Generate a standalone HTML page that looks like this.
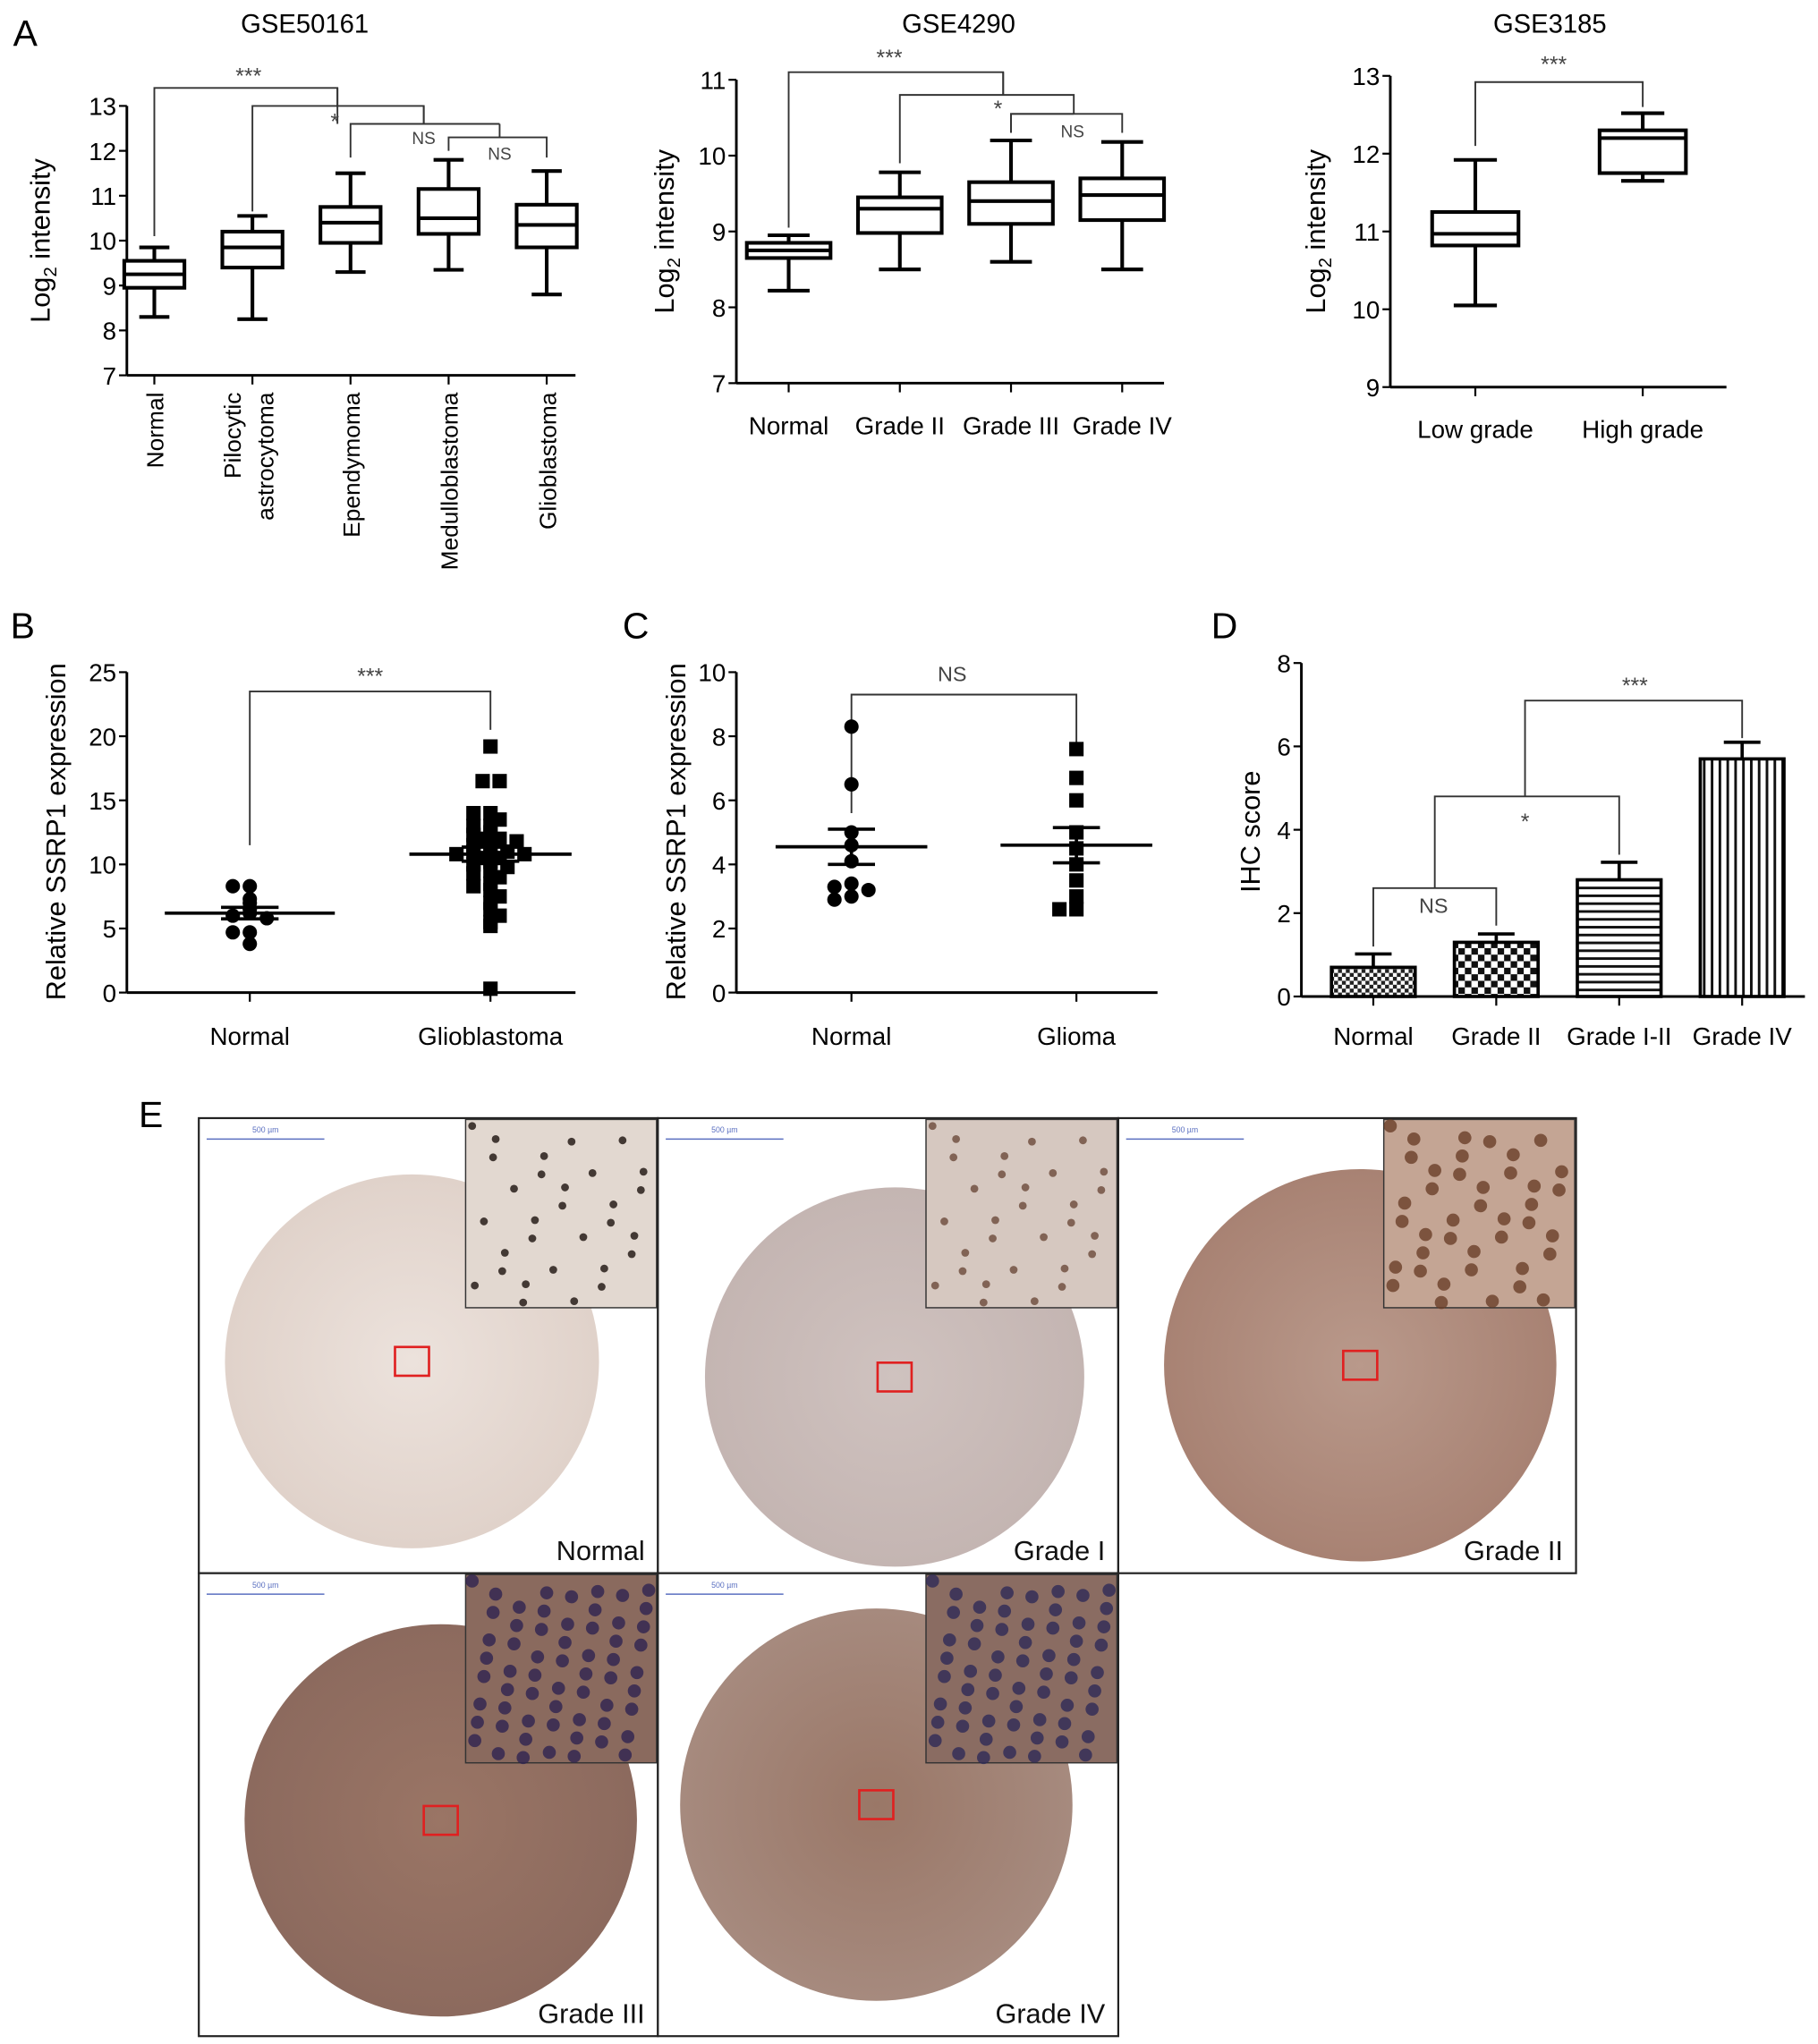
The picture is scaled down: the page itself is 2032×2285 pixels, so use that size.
<!DOCTYPE html>
<html><head><meta charset="utf-8"><style>
html,body{margin:0;padding:0;background:#fff;}
svg{display:block;font-family:"Liberation Sans",Arial,sans-serif;}
</style></head>
<body>
<svg id="fig" width="2032" height="2285" viewBox="0 0 1390 1563" preserveAspectRatio="none" xmlns="http://www.w3.org/2000/svg">
<defs>
<pattern id="pCheckSmall" width="6" height="6" patternUnits="userSpaceOnUse"><rect width="6" height="6" fill="#fff"/><rect width="3" height="3" fill="#222"/><rect x="3" y="3" width="3" height="3" fill="#222"/></pattern>
<pattern id="pCheck" width="10" height="10" patternUnits="userSpaceOnUse"><rect width="10" height="10" fill="#fff"/><rect width="5" height="5" fill="#111"/><rect x="5" y="5" width="5" height="5" fill="#111"/></pattern>
<pattern id="pHoriz" width="6" height="6" patternUnits="userSpaceOnUse"><rect width="6" height="6" fill="#fff"/><rect y="0" width="6" height="2" fill="#111"/></pattern>
<pattern id="pVert" width="6" height="6" patternUnits="userSpaceOnUse"><rect width="6" height="6" fill="#fff"/><rect x="0" width="2" height="6" fill="#111"/></pattern>
<radialGradient id="gNormal"><stop offset="0" stop-color="#ece2dc"/><stop offset="1" stop-color="#e0d2ca"/></radialGradient>
<radialGradient id="gG1"><stop offset="0" stop-color="#cfc2bf"/><stop offset="1" stop-color="#c4b5b2"/></radialGradient>
<radialGradient id="gG2"><stop offset="0" stop-color="#b9998b"/><stop offset="1" stop-color="#a88273"/></radialGradient>
<radialGradient id="gG3"><stop offset="0" stop-color="#9a7565"/><stop offset="1" stop-color="#8c6a5e"/></radialGradient>
<radialGradient id="gG4"><stop offset="0" stop-color="#9a7767"/><stop offset="1" stop-color="#a68a7e"/></radialGradient>
</defs>
<g id="root"></g>
</svg>
<script>
// ===== Panel A data =====
const a1Categories = ["Normal","Pilocytic astrocytoma","Ependymoma","Medulloblastoma","Glioblastoma"];
const a1Low = [8.3, 8.25, 9.3, 9.35, 8.8];
const a1Q1 = [8.95, 9.4, 9.95, 10.15, 9.85];
const a1Median = [9.25, 9.85, 10.4, 10.5, 10.35];
const a1Q3 = [9.55, 10.2, 10.75, 11.15, 10.8];
const a1High = [9.85, 10.55, 11.5, 11.8, 11.55];
const a1Ticks = [7,8,9,10,11,12,13];

const a2Categories = ["Normal","Grade II","Grade III","Grade IV"];
const a2Low = [8.22, 8.5, 8.6, 8.5];
const a2Q1 = [8.65, 8.98, 9.1, 9.15];
const a2Median = [8.75, 9.3, 9.4, 9.48];
const a2Q3 = [8.85, 9.45, 9.65, 9.7];
const a2High = [8.95, 9.78, 10.2, 10.18];
const a2Ticks = [7,8,9,10,11];

const a3Categories = ["Low grade","High grade"];
const a3Low = [10.05, 11.65];
const a3Q1 = [10.82, 11.75];
const a3Median = [10.97, 12.2];
const a3Q3 = [11.25, 12.3];
const a3High = [11.92, 12.52];
const a3Ticks = [9,10,11,12,13];

// ===== Panel B data =====
const bCategories = ["Normal","Glioblastoma"];
const bNormal = [8.3, 8.3, 7.3, 7.0, 6.5, 6.2, 6.0, 5.8, 4.7, 4.7, 3.8];
const bGlio = [19.2, 16.5, 16.5, 14.0, 14.0, 13.5, 13.0, 13.0, 12.5, 12.3, 12.0, 12.0, 11.8, 11.5, 11.5, 11.2, 11.0, 11.0, 10.8, 10.8, 10.5, 10.5, 10.2, 10.0, 9.8, 9.5, 9.3, 9.0, 8.5, 8.3, 8.0, 7.5, 7.0, 6.5, 6.0, 5.5, 5.2, 0.3];
const bMean = [6.2, 10.8];
const bSem = [0.45, 0.55];
const bTicks = [0,5,10,15,20,25];

// ===== Panel C data =====
const cCategories = ["Normal","Glioma"];
const cNormal = [8.3, 6.5, 5.0, 4.6, 4.1, 3.4, 3.3, 3.2, 3.0, 2.9];
const cGlioma = [7.6, 6.7, 6.0, 5.0, 4.5, 4.0, 3.5, 3.0, 2.6, 2.6];
const cMean = [4.55, 4.6];
const cSem = [0.55, 0.55];
const cTicks = [0,2,4,6,8,10];

// ===== Panel D data =====
const dCategories = ["Normal","Grade II","Grade I-II","Grade IV"];
const dValues = [0.7, 1.3, 2.8, 5.7];
const dErrors = [0.32, 0.2, 0.42, 0.4];
const dTicks = [0,2,4,6,8];

const NS = "http://www.w3.org/2000/svg";
const root = document.getElementById('root');
function mk(tag, attrs, parent, text){
  const e = document.createElementNS(NS, tag);
  for (const k in attrs) e.setAttribute(k, attrs[k]);
  if (text !== undefined) e.textContent = text;
  (parent||root).appendChild(e);
  return e;
}
function lin(d0,d1,r0,r1){ return v => r0 + (v-d0)*(r1-r0)/(d1-d0); }

function yAxis(g, x, ticks, y, fs){
  const ax = mk('line',{x1:x,y1:y(ticks[0]),x2:x,y2:y(ticks[ticks.length-1]),stroke:'#000','stroke-width':2},g);
  
  
  ticks.forEach(t=>{
    mk('line',{x1:x-6,y1:y(t),x2:x,y2:y(t),stroke:'#000','stroke-width':1.5},g);
    const tl = mk('text',{x:x-8,y:y(t)+7,'text-anchor':'end','font-size':fs||19},g,String(t));
    
    
  });
}
function yTitle(g, x, yc, parts){
  const t = mk('text',{transform:`translate(${x},${yc}) rotate(-90)`,'text-anchor':'middle','font-size':21},g);
  
  
  parts.forEach(p=>{
    mk('tspan', p.sub?{'font-size':14,dy:5}:(p.after?{dy:-5}:{}), t, p.t);
  });
}
function bracket(g, x1, ya, x2, yb, ytop, label, lx, ly, fs){
  const p = mk('path',{d:`M${x1},${ya} V${ytop} H${x2} V${yb}`,fill:'none',stroke:'#333','stroke-width':1.3},g);
  
  
  const t = mk('text',{x:lx,y:ly,'text-anchor':'middle','font-size':fs||15,fill:'#444'},g,label);
  
  
}
function panelLetter(x,y,l){
  const t = mk('text',{x:x,y:y,'font-size':28},root,l);
  
  
}
function title(x,y,s){
  const t = mk('text',{x:x,y:y,'text-anchor':'middle','font-size':20},root,s);
  
  
}
function boxplot(g, cats, lo, q1, med, q3, hi, xPos, y, w){
  cats.forEach((c,i)=>{
    const x = xPos(i);
    const bg = mk('g',{},g);
    
    
    const cap = w*0.5;
    mk('line',{x1:x,y1:y(hi[i]),x2:x,y2:y(q3[i]),stroke:'#000','stroke-width':2.8},bg);
    mk('line',{x1:x,y1:y(lo[i]),x2:x,y2:y(q1[i]),stroke:'#000','stroke-width':2.8},bg);
    mk('line',{x1:x-cap/2,y1:y(hi[i]),x2:x+cap/2,y2:y(hi[i]),stroke:'#000','stroke-width':2.8},bg);
    mk('line',{x1:x-cap/2,y1:y(lo[i]),x2:x+cap/2,y2:y(lo[i]),stroke:'#000','stroke-width':2.8},bg);
    mk('rect',{x:x-w/2,y:y(q3[i]),width:w,height:y(q1[i])-y(q3[i]),fill:'#fff',stroke:'#000','stroke-width':2.8},bg);
    mk('line',{x1:x-w/2,y1:y(med[i]),x2:x+w/2,y2:y(med[i]),stroke:'#000','stroke-width':2.8},bg);
  });
}
function xAxis(g, x0, x1, y0, xs){
  const a = mk('line',{x1:x0,y1:y0,x2:x1,y2:y0,stroke:'#000','stroke-width':2},g);
  
  
  xs.forEach(x=>mk('line',{x1:x,y1:y0,x2:x,y2:y0+7,stroke:'#000','stroke-width':1.5},g));
}
function xLabel(g,x,y,s){
  const t = mk('text',{x:x,y:y,'text-anchor':'middle','font-size':19},g,s);
  
  
}

// ---------- A1 ----------
panelLetter(10,35,'A');
title(233,25,'GSE50161');
{
  const g = mk('g',{});  
  const y = lin(7,13,287,81);
  const xp = i => 118 + i*75;
  yAxis(g,97,a1Ticks,y);
  yTitle(g,38,184,[{t:'Log'},{t:'2',sub:true},{t:' intensity',after:true}]);
  xAxis(g,97,440,287,a1Categories.map((c,i)=>xp(i)));
  boxplot(g,a1Categories,a1Low,a1Q1,a1Median,a1Q3,a1High,xp,y,46);
  const labs = [["Normal"],["Pilocytic","astrocytoma"],["Ependymoma"],["Medulloblastoma"],["Glioblastoma"]];
  labs.forEach((L,i)=>{
    L.forEach((s,j)=>{
      const off = L.length===2 ? (j===0?-9:16) : 7;
      const t = mk('text',{transform:`translate(${xp(i)+off},300) rotate(-90)`,'text-anchor':'end','font-size':18},g,s);
      
      
    });
  });
  bracket(g,xp(0),y(10.1),258,y(12.6),y(13.4),'***',190,64,17);
  bracket(g,xp(1),y(10.65),324,y(12.6),y(13.0),'',0,0);
  bracket(g,xp(2),y(11.85),382,y(12.6),y(12.6),'*',256,99,17);
  bracket(g,xp(3),y(12.0),418,y(11.85),y(12.3),'NS',382,122,13);
  mk('text',{x:324,y:110,'text-anchor':'middle','font-size':13,fill:'#444'},g,'NS');
  mk('line',{x1:258,y1:y(13.4),x2:258,y2:y(13.0),stroke:'#333','stroke-width':1.3},g);
  mk('line',{x1:324,y1:y(13.0),x2:324,y2:y(12.6),stroke:'#333','stroke-width':1.3},g);
  mk('line',{x1:382,y1:y(12.6),x2:382,y2:y(12.3),stroke:'#333','stroke-width':1.3},g);
}

// ---------- A2 ----------
title(733,25,'GSE4290');
{
  const g = mk('g',{});  
  const y = lin(7,11,293,61);
  const xp = i => 603 + i*85;
  yAxis(g,563,a2Ticks,y);
  yTitle(g,515,177,[{t:'Log'},{t:'2',sub:true},{t:' intensity',after:true}]);
  xAxis(g,563,890,293,a2Categories.map((c,i)=>xp(i)));
  boxplot(g,a2Categories,a2Low,a2Q1,a2Median,a2Q3,a2High,xp,y,64);
  a2Categories.forEach((c,i)=>xLabel(g,xp(i),332,c));
  bracket(g,xp(0),y(9.05),767,y(10.8),y(11.1),'***',680,50,17);
  bracket(g,xp(1),y(9.9),821,y(10.55),y(10.8),'',0,0);
  bracket(g,xp(2),y(10.3),821,y(10.55),y(10.55),'*',763,89,17);
  bracket(g,xp(2),y(10.3),xp(3),y(10.3),y(10.55),'',0,0);
  mk('text',{x:820,y:105,'text-anchor':'middle','font-size':13,fill:'#444'},g,'NS');
  mk('line',{x1:767,y1:y(11.1),x2:767,y2:y(10.8),stroke:'#333','stroke-width':1.3},g);
}

// ---------- A3 ----------
title(1185,25,'GSE3185');
{
  const g = mk('g',{});  
  const y = lin(9,13,296,58);
  const xp = i => 1128 + i*128;
  yAxis(g,1063,a3Ticks,y);
  yTitle(g,1013,177,[{t:'Log'},{t:'2',sub:true},{t:' intensity',after:true}]);
  xAxis(g,1063,1320,296,a3Categories.map((c,i)=>xp(i)));
  boxplot(g,a3Categories,a3Low,a3Q1,a3Median,a3Q3,a3High,xp,y,66);
  a3Categories.forEach((c,i)=>xLabel(g,xp(i),335,c));
  bracket(g,xp(0),y(12.1),xp(1),y(12.6),y(12.92),'***',1188,55,17);
}

// ---------- B ----------
panelLetter(8,488,'B');
{
  const g = mk('g',{});  
  const y = lin(0,25,759,514);
  const xp = i => [191,375][i];
  yAxis(g,97,bTicks,y);
  const t = mk('text',{transform:'translate(50,636) rotate(-90)','text-anchor':'middle','font-size':21},g,'Relative SSRP1 expression');
   
  xAxis(g,97,440,759,[191,375]);
  bCategories.forEach((c,i)=>xLabel(g,xp(i),799,c));
  bracket(g,191,y(11.5),375,y(20.5),y(23.5),'***',283,523,17);
  [bNormal,bGlio].forEach((arr,i)=>{
    const counts = {};
    arr.forEach(v=>{
      const k = Math.round(v*2);
      counts[k] = (counts[k]||0)+1;
      const n = counts[k]-1;
      const off = (n%2===0?1:-1)*Math.ceil(n/2)*13 + ((i===1&&k%3===0)?7:0);
      let m;
      if(i===0){ m = mk('circle',{cx:xp(i)+off,cy:y(v),r:5.5,fill:'#000'},g); }
      else { m = mk('rect',{x:xp(i)+off-5.5,y:y(v)-5.5,width:11,height:11,fill:'#000'},g); }
      
      
    });
    const w = i===0?65:62;
    const ml = mk('line',{x1:xp(i)-w,y1:y(bMean[i]),x2:xp(i)+w,y2:y(bMean[i]),stroke:'#000','stroke-width':2.5},g);
     
    mk('line',{x1:xp(i),y1:y(bMean[i]-bSem[i]),x2:xp(i),y2:y(bMean[i]+bSem[i]),stroke:'#000','stroke-width':2.5},g);
    [-1,1].forEach(s=>mk('line',{x1:xp(i)-22,y1:y(bMean[i]+s*bSem[i]),x2:xp(i)+22,y2:y(bMean[i]+s*bSem[i]),stroke:'#000','stroke-width':2.5},g));
  });
}

// ---------- C ----------
panelLetter(476,488,'C');
{
  const g = mk('g',{});  
  const y = lin(0,10,759,514);
  const xp = i => [651,823][i];
  yAxis(g,563,cTicks,y);
  const t = mk('text',{transform:'translate(524,636) rotate(-90)','text-anchor':'middle','font-size':21},g,'Relative SSRP1 expression');
   
  xAxis(g,563,885,759,[651,823]);
  cCategories.forEach((c,i)=>xLabel(g,xp(i),799,c));
  bracket(g,651,y(5.6),823,y(7.8),y(9.3),'NS',728,521,16);
  [cNormal,cGlioma].forEach((arr,i)=>{
    const counts = {};
    arr.forEach(v=>{
      const k = Math.round(v*3);
      counts[k] = (counts[k]||0)+1;
      const n = counts[k]-1;
      const off = (n%2===0?1:-1)*Math.ceil(n/2)*13;
      let m;
      if(i===0){ m = mk('circle',{cx:xp(i)+off,cy:y(v),r:5.5,fill:'#000'},g); }
      else { m = mk('rect',{x:xp(i)+off-5.5,y:y(v)-5.5,width:11,height:11,fill:'#000'},g); }
      
      
    });
    const ml = mk('line',{x1:xp(i)-58,y1:y(cMean[i]),x2:xp(i)+58,y2:y(cMean[i]),stroke:'#000','stroke-width':2.5},g);
     
    mk('line',{x1:xp(i),y1:y(cMean[i]-cSem[i]),x2:xp(i),y2:y(cMean[i]+cSem[i]),stroke:'#000','stroke-width':2.5},g);
    [-1,1].forEach(s=>mk('line',{x1:xp(i)-18,y1:y(cMean[i]+s*cSem[i]),x2:xp(i)+18,y2:y(cMean[i]+s*cSem[i]),stroke:'#000','stroke-width':2.5},g));
  });
}

// ---------- D ----------
panelLetter(926,488,'D');
{
  const g = mk('g',{});  
  const y = lin(0,8,762,507);
  const xp = i => 1050 + i*94;
  const fills = ['url(#pCheckSmall)','url(#pCheck)','url(#pHoriz)','url(#pVert)'];
  yAxis(g,995,dTicks,y);
  const t = mk('text',{transform:'translate(963,636) rotate(-90)','text-anchor':'middle','font-size':21},g,'IHC score');
   
  xAxis(g,995,1380,762,dCategories.map((c,i)=>xp(i)));
  dCategories.forEach((c,i)=>{
    xLabel(g,xp(i),799,c);
    mk('line',{x1:xp(i),y1:y(dValues[i]),x2:xp(i),y2:y(dValues[i]+dErrors[i]),stroke:'#000','stroke-width':2.5},g);
    mk('line',{x1:xp(i)-14,y1:y(dValues[i]+dErrors[i]),x2:xp(i)+14,y2:y(dValues[i]+dErrors[i]),stroke:'#000','stroke-width':2.5},g);
    const b = mk('rect',{x:xp(i)-32,y:y(dValues[i]),width:64,height:y(0)-y(dValues[i]),fill:fills[i],stroke:'#000','stroke-width':2.5},g);
    
    
  });
  bracket(g,xp(0),y(1.2),xp(1),y(1.7),y(2.6),'NS',1096,698,16);
  bracket(g,1097,y(2.6),xp(2),y(3.4),y(4.8),'*',1166,634,17);
  bracket(g,1166,y(4.8),xp(3),y(6.2),y(7.1),'***',1250,530,17);
}

// ---------- E ----------
panelLetter(106,862,'E');
{
  const panels = [
    {x:152,y:855,w:351,h:348,lab:'Normal',g:'gNormal',ins:'#e2d8d0',dot:'#1c120c',cx:315,cy:1041,r:143,n:30,dr:3},
    {x:503,y:855,w:352,h:348,lab:'Grade I',g:'gG1',ins:'#d6c8c0',dot:'#6b4a3a',cx:684,cy:1053,r:145,n:30,dr:3},
    {x:855,y:855,w:350,h:348,lab:'Grade II',g:'gG2',ins:'#c4a594',dot:'#6a3e28',cx:1040,cy:1044,r:150,n:40,dr:5},
    {x:152,y:1203,w:351,h:354,lab:'Grade III',g:'gG3',ins:'#8a6a5e',dot:'#2e2350',cx:337,cy:1392,r:150,n:60,dr:5},
    {x:503,y:1203,w:352,h:354,lab:'Grade IV',g:'gG4',ins:'#8a6c62',dot:'#2e2a58',cx:670,cy:1380,r:150,n:60,dr:5}
  ];
  panels.forEach(p=>{
    const g = mk('g',{}); 
    
    
    mk('rect',{x:p.x,y:p.y,width:p.w,height:p.h,fill:'#fff',stroke:'#222','stroke-width':1.5},g);
    mk('circle',{cx:p.cx,cy:p.cy,r:p.r,fill:'url(#'+p.g+')'},g);
    mk('rect',{x:p.x+p.w-147,y:p.y+1,width:146,height:144,fill:p.ins,stroke:'#333','stroke-width':1},g);
    for(let k=0;k<p.n;k++){
      const sx = p.x+p.w-142 + ((k*53)%136);
      const sy = p.y+6 + ((k*37)%136);
      mk('circle',{cx:sx,cy:sy,r:p.dr,fill:p.dot,opacity:0.8},g);
    }
    mk('line',{x1:p.x+6,y1:p.y+16,x2:p.x+96,y2:p.y+16,stroke:'#5a6fc0','stroke-width':1},g);
    mk('text',{x:p.x+51,y:p.y+11,'text-anchor':'middle','font-size':6,fill:'#5a6fc0'},g,'500 µm');
    mk('rect',{x:p.cx-13,y:p.cy-11,width:26,height:22,fill:'none',stroke:'#e02020','stroke-width':1.8},g);
    const t = mk('text',{x:p.x+p.w-10,y:p.y+p.h-10,'text-anchor':'end','font-size':21,fill:'#111'},g,p.lab);
    
    
  });
}
</script>
</body></html>
